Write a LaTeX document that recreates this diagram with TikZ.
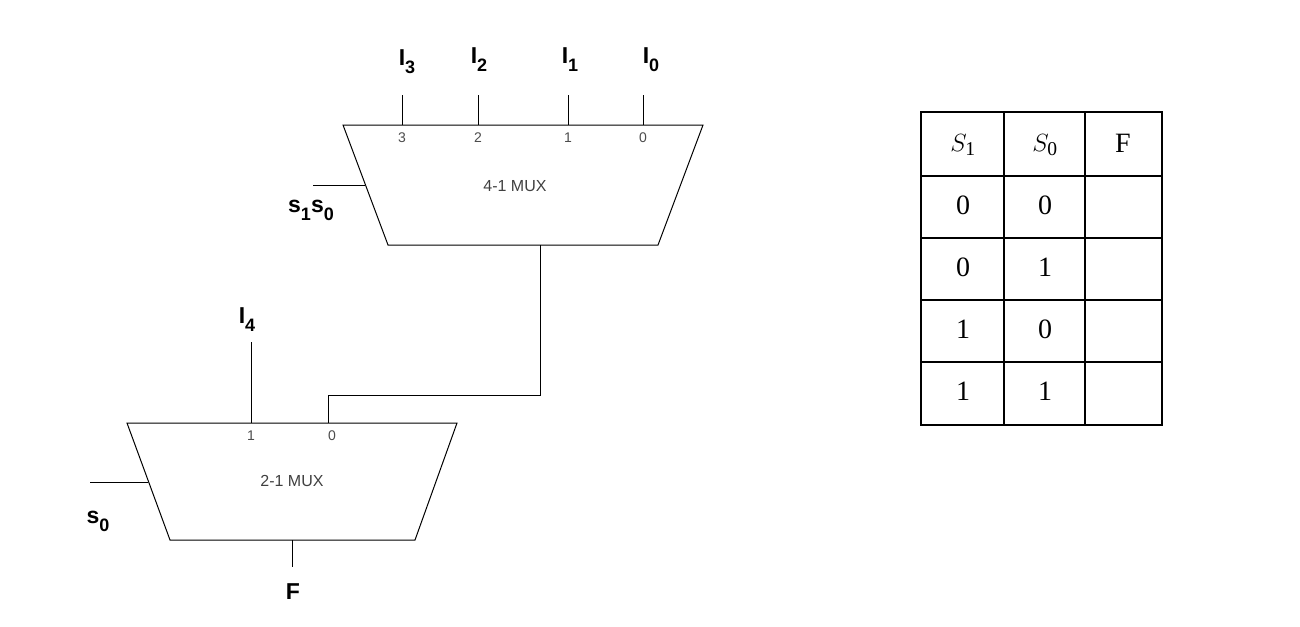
\documentclass[tikz,border=0pt]{standalone}
\usepackage{fontspec}
\setmainfont{Liberation Serif}
\newfontfamily\arial{Liberation Sans}
\newcommand{\sbx}[1]{\raisebox{-0.35em}{\fontsize{18}{18}\selectfont #1}}
\begin{document}
\begin{tikzpicture}[x=1pt,y=-1pt,
  wire/.style={line width=1pt},
  lbl/.style={font=\arial\bfseries\fontsize{23}{23}\selectfont},
  pin/.style={font=\arial\fontsize{14}{14}\selectfont,text=black!70},
  mtxt/.style={font=\arial\fontsize{16}{16}\selectfont,text=black!75},
  cell/.style={font=\fontsize{28}{28}\selectfont}]
\useasboundingbox (0,0) rectangle (1300,626);
% 4-1 MUX
\draw[wire] (343,125) -- (703,125) -- (658,245) -- (388,245) -- cycle;
\node[mtxt] (m4) at (515,186) {4-1 MUX};
\foreach \x/\n in {402/3,478/2,568/1,643/0}{
  \coordinate (in\n) at (\x,125);
  \coordinate (top\n) at (\x,95);
  \draw[wire] (top\n) -- (in\n);
  \node[pin] (p\n) at (\x,138) {\n};
}
\node[lbl] (L3) at (407,62) {I\sbx{3}};
\node[lbl] (L2) at (479,60) {I\sbx{2}};
\node[lbl] (L1) at (570,60) {I\sbx{1}};
\node[lbl] (L0) at (651,60) {I\sbx{0}};
\coordinate (sel4a) at (313,185); \coordinate (sel4b) at (365,185);
\draw[wire] (sel4a) -- (sel4b);
\node[lbl] (s10) at (311,210) {s\sbx{1}s\sbx{0}};
% connection
\coordinate (o4) at (540,245); \coordinate (c1) at (540,395); \coordinate (c2) at (328,395); \coordinate (i0b) at (328,423);
\draw[wire] (o4) -- (c1) -- (c2) -- (i0b);
% 2-1 MUX
\draw[wire] (127,423) -- (457,423) -- (415,540) -- (170,540) -- cycle;
\node[mtxt] (m2) at (292,481) {2-1 MUX};
\node[pin] (q1) at (251,436) {1};
\node[pin] (q0) at (332,436) {0};
\coordinate (i4t) at (251,342); \coordinate (i4b) at (251,423);
\draw[wire] (i4t) -- (i4b);
\node[lbl] (L4) at (247,320) {I\sbx{4}};
\coordinate (sel2a) at (90,482); \coordinate (sel2b) at (148,482);
\draw[wire] (sel2a) -- (sel2b);
\node[lbl] (s0) at (98,521) {s\sbx{0}};
\coordinate (o2) at (292,540); \coordinate (o2b) at (292,567);
\draw[wire] (o2) -- (o2b);
\node[lbl] (F) at (293,592) {F};
% table
\draw[line width=1.2pt] (921,112) rectangle (1162,425);
\foreach \y in {176,238,300,362} \draw[line width=1.2pt] (921,\y) -- (1162,\y);
\foreach \x in {1004,1085} \draw[line width=1.2pt] (\x,112) -- (\x,425);
\node[cell] (h1) at (963,145) {$S_{\mathrm{1}}$};
\node[cell] (h2) at (1045,145) {$S_{\mathrm{0}}$};
\node[cell] (h3) at (1123,143) {F};
\foreach \r/\a/\b/\y in {1/0/0/205,2/0/1/267,3/1/0/329,4/1/1/391}{
  \node[cell] (a\r) at (963,\y) {\a};
  \node[cell] (b\r) at (1045,\y) {\b};
}
\end{tikzpicture}
\end{document}
